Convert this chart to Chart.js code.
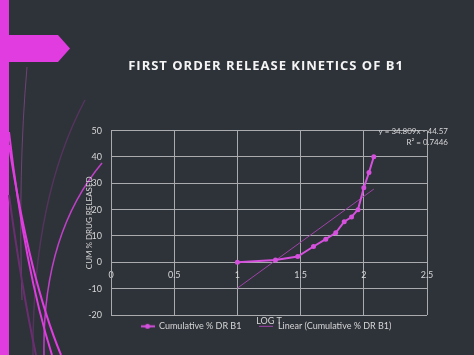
<!DOCTYPE html>
<html>
<head>
<meta charset="utf-8">
<script src="https://cdn.jsdelivr.net/npm/chart.js@4.4.1/dist/chart.umd.min.js"></script>
<style>
  html, body { margin: 0; padding: 0; background: #2e3239; width: 474px; height: 355px; overflow: hidden; }
  #decor { position: absolute; left: 0; top: 0; z-index: 0; }
  #wrap { position: absolute; left: 0; top: 0; width: 474px; height: 355px; z-index: 1; }
</style>
</head>
<body>
<svg id="decor" width="474" height="355" xmlns="http://www.w3.org/2000/svg">
  <rect x="0" y="0" width="9" height="355" fill="#e03ce0"/>
  <polygon points="9,35 58,35 70,48.5 58,62 9,62" fill="#e03ce0"/>
  <path d="M27,67 Q18,170 22,300" stroke="#8a4a8f" stroke-width="1" fill="none" opacity="0.7"/>
  <path d="M85,100 Q32,200 33,355" stroke="#5e3466" stroke-width="1.5" fill="none" opacity="0.8"/>
  <path d="M9,195 Q22,290 36,355" stroke="#6a2e70" stroke-width="2" fill="none"/>
  <path d="M102,163 Q42,235 44,355" stroke="#c040c8" stroke-width="1.5" fill="none"/>
  <path d="M9,132 Q25,270 52,355" stroke="#e03ce0" stroke-width="2" fill="none"/>
  <path d="M9,145 Q30,280 61,355" stroke="#e03ce0" stroke-width="2" fill="none"/>
</svg>
<div id="wrap"><canvas id="c" width="474" height="355"></canvas></div>
<script>
// ---- data ----
const logT = [1.0, 1.301, 1.477, 1.602, 1.699, 1.778, 1.845, 1.903, 1.954, 2.0, 2.041, 2.079];
const cumDR = [0.0, 0.9, 2.2, 6.0, 8.8, 11.2, 15.4, 17.2, 20.0, 28.3, 34.1, 40.1];
const trendX = [1.0, 2.079];
const trendY = [-9.8, 27.8];
const xTicks = [0, 0.5, 1, 1.5, 2, 2.5];
const yTicks = [-20, -10, 0, 10, 20, 30, 40, 50];
const seriesNames = ['Cumulative % DR B1', 'Linear (Cumulative % DR B1)'];
const trendLabels = ['y = 34.809x - 44.57', 'R\u00B2 = 0.7446'];
const chartTitle = 'FIRST ORDER RELEASE KINETICS OF B1';
const xTitle = 'LOG T';
const yTitle = 'CUM % DRUG RELEASED';

const LINE = '#d650de';
const TREND = '#a043aa';
const GRID = '#a9abaf';
const TXT = '#d6d6d6';
const FONT = "Lato, 'DejaVu Sans', sans-serif";
const TFONT = "'Open Sans', 'DejaVu Sans', sans-serif";

function legendImg(kind) {
  const c = document.createElement('canvas');
  c.width = 14; c.height = 7;
  const g = c.getContext('2d');
  if (kind === 0) {
    g.strokeStyle = LINE; g.lineWidth = 2;
    g.beginPath(); g.moveTo(0, 3.5); g.lineTo(14, 3.5); g.stroke();
    g.fillStyle = LINE; g.beginPath(); g.arc(7, 3.5, 2.5, 0, Math.PI * 2); g.fill();
  } else {
    g.strokeStyle = TREND; g.lineWidth = 1;
    g.beginPath(); g.moveTo(0, 3.5); g.lineTo(14, 3.5); g.stroke();
  }
  return c;
}
const legendImgs = [legendImg(0), legendImg(1)];

const trendLabelPlugin = {
  id: 'trendLabel',
  afterDatasetsDraw(chart) {
    const ctx = chart.ctx;
    const xs = chart.scales.x, ys = chart.scales.y;
    const rx = xs.getPixelForValue(xTicks[xTicks.length - 1]) + 21;
    const y0 = ys.getPixelForValue(yTicks[yTicks.length - 1]);
    ctx.save();
    ctx.font = '8px ' + FONT;
    ctx.fillStyle = TXT;
    ctx.textAlign = 'right';
    ctx.textBaseline = 'middle';
    ctx.fillText(trendLabels[0], rx, y0 + 1);
    ctx.fillText(trendLabels[1], rx, y0 + 12);
    ctx.restore();
  }
};

const chart = new Chart(document.getElementById('c'), {
  type: 'scatter',
  data: {
    datasets: [
      {
        label: seriesNames[0],
        data: logT.map((x, i) => ({ x: x, y: cumDR[i] })),
        showLine: true,
        borderColor: LINE,
        backgroundColor: LINE,
        borderWidth: 2,
        pointRadius: 2.5,
        pointHoverRadius: 2.5,
        pointBackgroundColor: LINE,
        pointBorderWidth: 0,
        tension: 0,
        order: 1
      },
      {
        label: seriesNames[1],
        data: trendX.map((x, i) => ({ x: x, y: trendY[i] })),
        showLine: true,
        borderColor: TREND,
        backgroundColor: TREND,
        borderWidth: 1,
        pointRadius: 0,
        order: 2
      }
    ]
  },
  options: {
    responsive: false,
    animation: false,
    events: [],
    layout: { padding: { left: 76, right: 18, top: 0, bottom: 3 } },
    scales: {
      x: {
        type: 'linear',
        position: { y: 0 },
        min: 0, max: 2.5,
        afterBuildTicks(s) { s.ticks = xTicks.map(v => ({ value: v })); },
        ticks: { color: TXT, font: { size: 9, family: FONT }, padding: 7, callback: v => String(v) },
        grid: { color: GRID, lineWidth: 1, drawTicks: false },
        border: { color: GRID }
      },
      xt: {
        type: 'linear',
        position: 'bottom',
        min: 0, max: 2.5,
        display: true,
        ticks: { display: false },
        grid: { display: false, drawTicks: false },
        border: { display: false },
        title: { display: true, text: xTitle, color: TXT, font: { size: 9, family: FONT }, padding: { top: 1, bottom: -23 } }
      },
      y: {
        type: 'linear',
        position: 'left',
        min: -20, max: 50,
        afterBuildTicks(s) { s.ticks = yTicks.map(v => ({ value: v })); },
        afterFit(s) { s.width = 35; },
        ticks: { color: TXT, font: { size: 9, family: FONT }, padding: 9 },
        grid: { color: GRID, lineWidth: 1, drawTicks: false },
        border: { color: GRID },
        title: { display: true, text: yTitle, color: TXT, font: { size: 8, family: FONT }, padding: { top: 8.5, bottom: 0 } }
      },
      yr: {
        type: 'linear',
        position: 'right',
        display: true,
        afterFit(s) { s.width = 29; },
        ticks: { display: false },
        grid: { display: false, drawTicks: false },
        border: { display: false }
      }
    },
    plugins: {
      title: {
        display: true,
        text: chartTitle,
        color: '#f4f4f4',
        font: { size: 13, weight: 'bold', family: TFONT },
        padding: { top: 58, bottom: 57 }
      },
      legend: {
        display: true,
        position: 'bottom',
        labels: {
          color: TXT,
          font: { size: 9, family: FONT },
          usePointStyle: true,
          pointStyleWidth: 14,
          padding: 18,
          generateLabels(chart) {
            const items = Chart.defaults.plugins.legend.labels.generateLabels(chart);
            items.forEach((it, i) => { it.pointStyle = legendImgs[i]; });
            return items;
          }
        }
      },
      tooltip: { enabled: false }
    }
  },
  plugins: [trendLabelPlugin]
});

// widen title letter spacing like the reference
const tb = chart.titleBlock;
if (tb) {
  const origDraw = tb.draw.bind(tb);
  tb.draw = function () {
    const ctx = this.ctx;
    ctx.save();
    ctx.letterSpacing = '1px';
    origDraw();
    ctx.restore();
  };
  chart.draw();
}
</script>
</body>
</html>
